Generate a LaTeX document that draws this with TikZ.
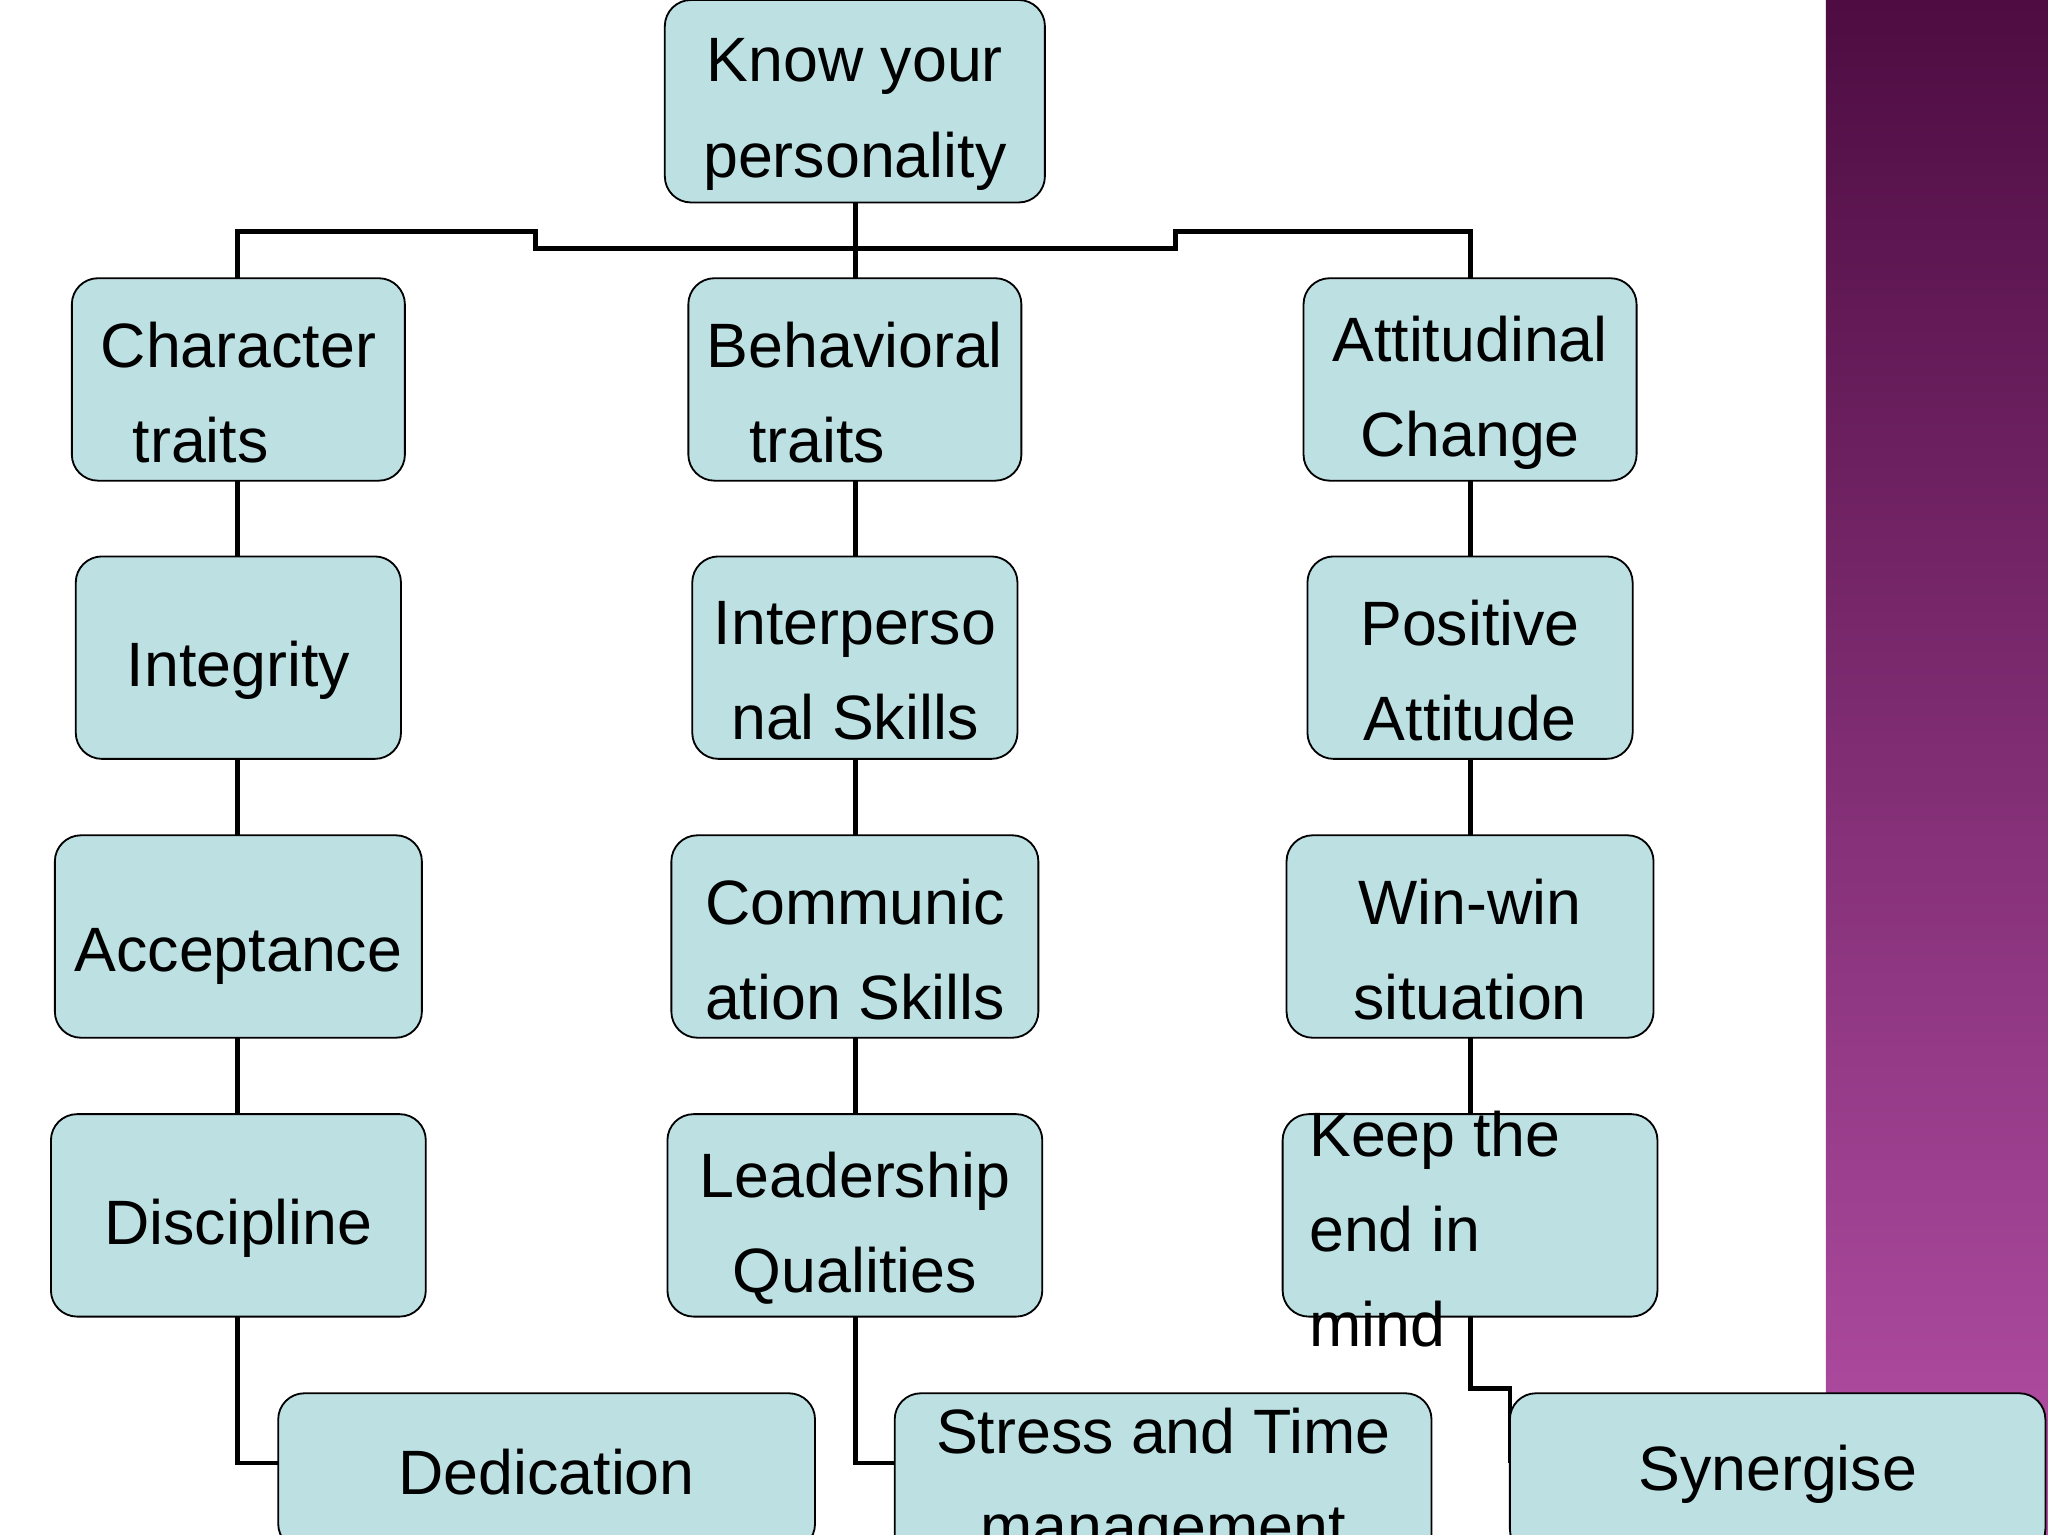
\documentclass[tikz,border=0pt]{standalone}
\usepackage{fontspec}
\setmainfont{Liberation Sans}
\definecolor{boxfill}{HTML}{BDE0E3}
\definecolor{purpTop}{HTML}{4E0C42}
\definecolor{purpBot}{HTML}{B44FA6}
\begin{document}
\begin{tikzpicture}[x=0.5pt,y=-0.5pt,
  labs/.style={inner sep=0pt,font=\fontsize{24pt}{36.5pt}\selectfont,align=center,yshift=-5pt},
  box/.style={draw=black,line width=0.7pt,fill=boxfill,rounded corners=10pt,inner sep=0pt,
    minimum height=77.5pt,label={[labs]center:{#1}}},
  bbox/.style={draw=black,line width=0.7pt,fill=boxfill,rounded corners=10pt,inner sep=0pt,
    font=\fontsize{24pt}{36.5pt}\selectfont,align=center},
  conn/.style={line width=1.8pt,draw=black}]
\useasboundingbox (0,0) rectangle (1568,1175);
\clip (0,0) rectangle (1568,1175);
\fill[white] (0,0) rectangle (1568,1175);
\shade[top color=purpTop,bottom color=purpBot] (1398,0) rectangle (1568,1175);
% connectors
\draw[conn] (655,155) -- (655,213);
\draw[conn] (182,213) -- (182,177) -- (410,177) -- (410,190) -- (900,190) -- (900,177) -- (1126,177) -- (1126,213);
\foreach \x in {182,655,1126}{\draw[conn] (\x,368) -- (\x,853);}
\draw[conn] (182,1008) -- (182,1120) -- (213,1120);
\draw[conn] (655,1008) -- (655,1120) -- (685,1120);
\draw[conn] (1126,1008) -- (1126,1063) -- (1156,1063) -- (1156,1120);
% boxes
\node[box={Know your\\personality},minimum width=145.5pt] (top) at (654.5,77.5) {};
\node[box={Character\\\hspace*{-1.2em}traits},minimum width=127.5pt] (ct) at (182.5,290.5) {};
\node[box={Behavioral\\\hspace*{-1.2em}traits},minimum width=127.5pt] (bt) at (654.5,290.5) {};
\node[box={Attitudinal\\Change},minimum width=127.5pt] (ac) at (1125.5,290.5) {};
\node[box={Integrity},minimum width=124.5pt] (in) at (182.5,503.5) {};
\node[box={Interperso\\nal Skills},minimum width=124.5pt] (ip) at (654.5,503.5) {};
\node[box={Positive\\Attitude},minimum width=124.5pt] (pa) at (1125.5,503.5) {};
\node[box={\\[-0.6em]Acceptance},minimum width=140.5pt] (acc) at (182.5,717) {};
\node[box={Communic\\ation Skills},minimum width=140.5pt] (cs) at (654.5,717) {};
\node[box={Win-win\\situation},minimum width=140.5pt] (ww) at (1125.5,717) {};
\node[box={Discipline},minimum width=143.5pt] (di) at (182.5,930.5) {};
\node[box={Leadership\\Qualities},minimum width=143.5pt] (lq) at (654.5,930.5) {};
\node[box={},minimum width=143.5pt] (ke) at (1125.5,930.5) {};
\node[font=\fontsize{24pt}{36.5pt}\selectfont,align=left,anchor=west,inner sep=0pt] (ket) at (1002,941) {Keep the\\end in\\mind};
\node[bbox,minimum width=205.5pt,minimum height=60pt,anchor=north] (de) at (418.5,1066) {Dedication};
\node[bbox,minimum width=205.5pt,minimum height=70pt,anchor=north] (st) at (890.5,1066) {Stress and Time\\management};
\node[bbox,minimum width=205pt,minimum height=62pt,anchor=north] (sy) at (1361,1066) {Synergise};
\end{tikzpicture}
\end{document}
